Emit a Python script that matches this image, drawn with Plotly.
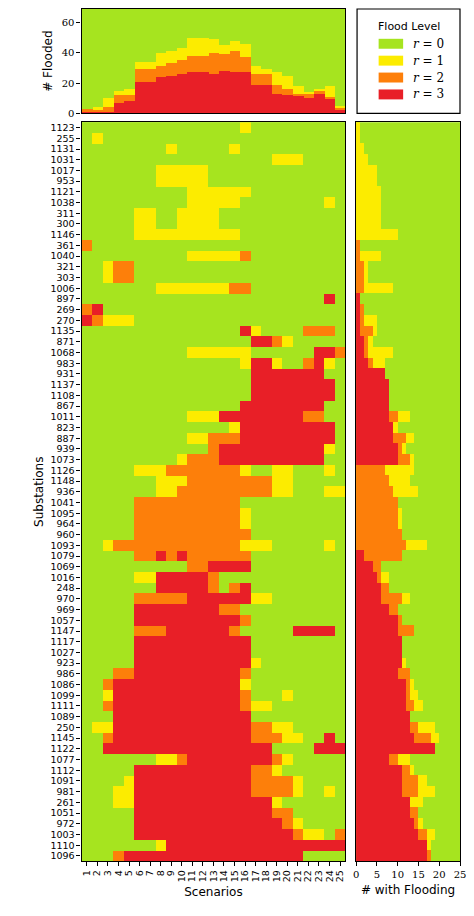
import plotly.graph_objects as go

substations = ["1123","255","1131","1031","1017","953","1121","1038","311","300",
"1146","361","1040","321","303","1006","897","269","270","1135",
"871","1068","983","931","1137","1108","867","1011","823","887",
"939","1073","1126","1148","936","1041","1095","964","960","1093",
"1079","1069","1016","248","970","969","1057","1147","1117","1027",
"923","986","1086","1099","1111","1089","250","1145","1122","1077",
"1112","1091","981","261","1051","972","1003","1110","1096"]

scenarios = [str(i) for i in range(1, 26)]

# flood level per substation (rows) x scenario (cols), 0..3
levels = [
"0000000000000001000000000",
"0100000000000000000000000",
"0000000010000010000000000",
"0000000000000000001110000",
"0000000111110000000000000",
"0000000111110000000000000",
"0000000000111111000000000",
"0000000000111110000000010",
"0000011001111000000000000",
"0000011001111000000000000",
"0000011111111110000000000",
"2000000000000000000000000",
"0000000000111112000000000",
"0012200000000000000000000",
"0012200000000000000000000",
"0000000111111122000000000",
"0000000000000000000000030",
"2300000000000000000000000",
"3211100000000000000000000",
"0000000000000003100002220",
"0000000000000000332100000",
"0000000000111111000000332",
"0000000000000001331002310",
"0000000000000000333333300",
"0000000000000000333333330",
"0000000000000000333333330",
"0000000000000003333333300",
"0000000000111333333332200",
"0000000000000013333333330",
"0000000000112223333333330",
"0000000000002333333333310",
"0000000001222333333333300",
"0000011122222221001100010",
"0000000111222222221100000",
"0000000112222222221100011",
"0000022222222220000000000",
"0000022222222221000000000",
"0000022222222221000000000",
"0000022222222222000000000",
"0012222222222221110000010",
"0000022323222222000000000",
"0000000000223333000000000",
"0000011333332000000000000",
"0000000333332023000000000",
"0000022222333333110000000",
"0000033333333220000000000",
"0000033333333332000000000",
"0000022233333320000033330",
"0000033333333333000000000",
"0000033333333333000000000",
"0000033333333333100000000",
"0002233333333332000000000",
"0023333333333331000000000",
"0013333333333332000100000",
"0023333333333332110000000",
"0003333333333333000000000",
"0113333333333333221100000",
"0023333333333333222110030",
"0033333333333333330000333",
"0000000112333333332100000",
"0000033333333333221000000",
"0000133333333333222210000",
"0001133333333333222210010",
"0001133333333333331000000",
"0000033333333333332200000",
"0000033333333333333210000",
"0000033333333333333321102",
"0000000133333333333333333",
"0002333333333333333330000",
]

colors = {0: "#a6e41f", 1: "#fcec00", 2: "#fd7f0a", 3: "#e81f27"}

z = [[int(c) for c in row] for row in levels]

W, H, OFF = 458, 900, 8
def px(x):
    return min(1.0, max(0.0, (x - OFF) / W))
def py(y):
    return min(1.0, max(0.0, 1 - (y - OFF) / H))

fig = go.Figure()

cs = [[0, colors[0]], [0.25, colors[0]], [0.25, colors[1]], [0.5, colors[1]],
      [0.5, colors[2]], [0.75, colors[2]], [0.75, colors[3]], [1, colors[3]]]
fig.add_trace(go.Heatmap(z=z, x=scenarios, y=substations, zmin=-0.5, zmax=3.5,
                         colorscale=cs, showscale=False, xaxis="x", yaxis="y"))

for lv in [3, 2, 1]:
    counts = [sum(1 for r in z if r[j] == lv) for j in range(25)]
    fig.add_trace(go.Bar(x=scenarios, y=counts, marker_color=colors[lv],
                         marker_line_width=0, xaxis="x2", yaxis="y2", showlegend=False))

for lv in [3, 2, 1]:
    counts = [sum(1 for v in r if v == lv) for r in z]
    fig.add_trace(go.Bar(y=substations, x=counts, orientation="h", marker_color=colors[lv],
                         marker_line_width=0, xaxis="x3", yaxis="y3", showlegend=False))

ax = dict(showline=True, mirror=True, linecolor="black", linewidth=1.2,
          ticks="outside", ticklen=4, tickcolor="black", showgrid=False, zeroline=False)
serif = dict(family="DejaVu Serif", size=10, color="black")
sans = dict(family="DejaVu Sans", size=9.5, color="black")
tfont = dict(family="DejaVu Sans", size=12, color="black")

fig.update_layout(
    width=W, height=H, margin=dict(l=0, r=0, t=0, b=0),
    paper_bgcolor="white", plot_bgcolor=colors[0],
    barmode="stack", bargap=0, showlegend=False,
    xaxis=dict(ax, domain=[px(80), px(349)], tickangle=-90, tickfont=sans,
               tickmode="array", tickvals=scenarios,
               title=dict(text="Scenarios", font=tfont, standoff=6)),
    yaxis=dict(ax, domain=[py(866), py(122)], autorange="reversed", tickfont=sans,
               tickmode="array", tickvals=substations,
               title=dict(text="Substations", font=tfont, standoff=4)),
    xaxis2=dict(ax, domain=[px(80), px(349)], anchor="y2", showticklabels=False, ticks="",
                categoryorder="array", categoryarray=scenarios),
    yaxis2=dict(ax, domain=[py(113), py(8)], anchor="x2", range=[0, 69], tickvals=[0, 20, 40, 60],
                tickfont=serif, title=dict(text="# Flooded", font=tfont, standoff=6)),
    xaxis3=dict(ax, domain=[px(360), px(466)], anchor="y3", range=[0, 25],
                tickvals=[0, 5, 10, 15, 20, 25], tickfont=serif, ticklabeloverflow="allow",
                title=dict(text="# with Flooding", font=tfont, standoff=6)),
    yaxis3=dict(ax, domain=[py(866), py(122)], anchor="x3", autorange="reversed",
                showticklabels=False, ticks="", categoryorder="array", categoryarray=substations),
)

fig.add_shape(type="rect", xref="paper", yref="paper", x0=px(361), x1=px(466), y0=py(113), y1=py(8),
              line=dict(color="black", width=1.2), fillcolor="white", layer="above")
fig.add_annotation(xref="paper", yref="paper", x=px(414), y=py(26), xanchor="center",
                   yanchor="middle", text="Flood Level", showarrow=False,
                   font=dict(family="DejaVu Sans", size=11, color="black"))
for i, lv in enumerate([0, 1, 2, 3]):
    yc = 43 + i * 17
    fig.add_shape(type="rect", xref="paper", yref="paper",
                  x0=px(383), x1=px(408), y0=py(yc + 5), y1=py(yc - 5),
                  fillcolor=colors[lv], line_width=0, layer="above")
    fig.add_annotation(xref="paper", yref="paper", x=px(416), y=py(yc), xanchor="left",
                       yanchor="middle", text="<i>r</i> = %d" % lv, showarrow=False,
                       font=dict(family="DejaVu Serif", size=12, color="black"))

fig.write_html("out.html")
